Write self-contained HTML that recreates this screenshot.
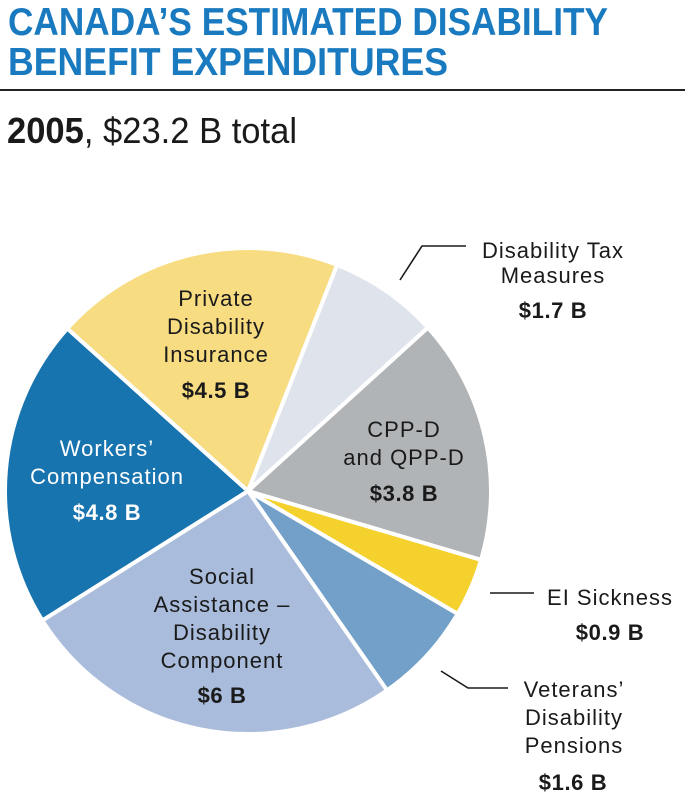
<!DOCTYPE html>
<html><head><meta charset="utf-8"><style>
html,body{margin:0;padding:0;background:#fff;}
svg{display:block;font-family:"Liberation Sans",sans-serif;}
.lbl{font-size:22px;fill:#1a1a1a;letter-spacing:1px;}
.val{font-size:22px;font-weight:bold;fill:#1a1a1a;letter-spacing:0.6px;}
.wl{fill:#fff;}
</style></head><body>
<svg id="chart" width="685" height="796" viewBox="0 0 685 796">
<text x="8" y="35" font-size="39" font-weight="bold" fill="#1a7abf" textLength="600" lengthAdjust="spacingAndGlyphs">CANADA’S ESTIMATED DISABILITY</text>
<text x="8" y="75" font-size="39" font-weight="bold" fill="#1a7abf" textLength="440" lengthAdjust="spacingAndGlyphs">BENEFIT EXPENDITURES</text>
<line x1="0" y1="90" x2="685" y2="90" stroke="#222" stroke-width="2"/>
<text x="7" y="143" font-size="36" fill="#1a1a1a" textLength="290" lengthAdjust="spacingAndGlyphs"><tspan font-weight="bold">2005</tspan>, $23.2 B total</text>
<g id="slices"></g>
<g stroke="#1a1a1a" stroke-width="1.6" fill="none">
<polyline points="400,280 422,246 466,246"/>
<line x1="490" y1="593" x2="534" y2="593"/>
<polyline points="441,671 468,688 508,688"/>
</g>
<g text-anchor="middle">
<text class="lbl" x="553" y="258">Disability Tax</text>
<text class="lbl" x="553" y="283">Measures</text>
<text class="val" x="553" y="318">$1.7 B</text>
<text class="lbl" x="404" y="437">CPP-D</text>
<text class="lbl" x="404" y="465">and QPP-D</text>
<text class="val" x="404" y="501">$3.8 B</text>
<text class="lbl" x="610" y="605">EI Sickness</text>
<text class="val" x="610" y="640">$0.9 B</text>
<text class="lbl" x="574" y="697">Veterans’</text>
<text class="lbl" x="574" y="725">Disability</text>
<text class="lbl" x="574" y="753">Pensions</text>
<text class="val" x="573" y="790">$1.6 B</text>
<text class="lbl" x="222" y="584">Social</text>
<text class="lbl" x="222" y="612">Assistance –</text>
<text class="lbl" x="222" y="640">Disability</text>
<text class="lbl" x="222" y="668">Component</text>
<text class="val" x="222" y="703">$6 B</text>
<text class="lbl wl" x="107" y="456">Workers’</text>
<text class="lbl wl" x="107" y="484">Compensation</text>
<text class="val wl" x="107" y="520">$4.8 B</text>
<text class="lbl" x="216" y="306">Private</text>
<text class="lbl" x="216" y="334">Disability</text>
<text class="lbl" x="216" y="362">Insurance</text>
<text class="val" x="216" y="398">$4.5 B</text>
</g>
</svg>
<script>
const categories = ["Disability Tax Measures","CPP-D and QPP-D","EI Sickness","Veterans' Disability Pensions","Social Assistance - Disability Component","Workers' Compensation","Private Disability Insurance"];
const values = [1.7, 3.8, 0.9, 1.6, 6, 4.8, 4.5];
const colors = ["#dfe4ec","#b1b4b6","#f5d12e","#72a0c8","#a9bcdb","#1874ae","#f7dc82"];
const cx = 248, cy = 491, R = 243, startDeg = 21.5;
const g = document.getElementById('slices');
const total = values.reduce((a,b)=>a+b,0);
let a = startDeg;
function pt(deg){const r=deg*Math.PI/180;return [cx+R*Math.sin(r), cy-R*Math.cos(r)];}
values.forEach((v,i)=>{
  const sweep = v/total*360;
  const p1 = pt(a), p2 = pt(a+sweep);
  const large = sweep>180?1:0;
  const p = document.createElementNS('http://www.w3.org/2000/svg','path');
  p.setAttribute('d',`M${cx},${cy} L${p1[0]},${p1[1]} A${R},${R} 0 ${large} 1 ${p2[0]},${p2[1]} Z`);
  p.setAttribute('fill',colors[i]);
  p.setAttribute('stroke','#fff');
  p.setAttribute('stroke-width','4');
  p.setAttribute('stroke-linejoin','round');
  
  
  g.appendChild(p);
  a += sweep;
});
</script>
</body></html>
